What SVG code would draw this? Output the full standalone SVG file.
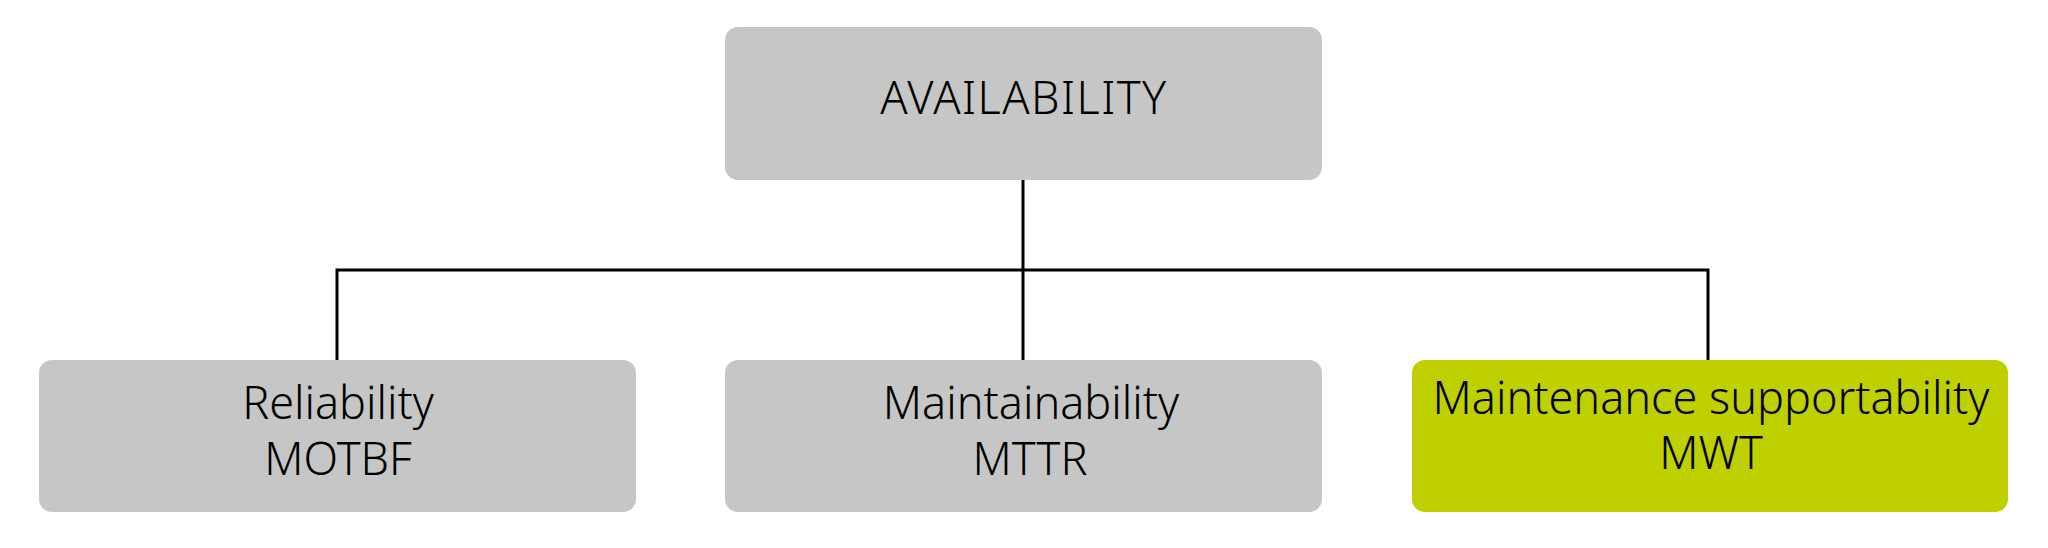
<svg xmlns="http://www.w3.org/2000/svg" width="2048" height="548" viewBox="0 0 2048 548">
<style>
.box{fill:#c6c6c6}
.hl{fill:#bed000}
.t{font-family:"Noto Sans","Open Sans","Liberation Sans",sans-serif;font-weight:300;font-size:45px;fill:#000;text-anchor:middle}
.c{stroke:#000;stroke-width:3;fill:none}
</style>
<rect width="2048" height="548" fill="#fff"/>
<g id="connectors">
<path class="c" d="M1023 180 V360"/>
<path class="c" d="M337 360 V270 H1708 V360"/>
</g>
<g id="availability">
<rect class="box" x="725" y="27" width="597" height="153" rx="13"/>
<text class="t" x="1024" y="114" letter-spacing="1.5">AVAILABILITY</text>
</g>
<g id="reliability">
<rect class="box" x="39" y="360" width="597" height="152" rx="13"/>
<text class="t" x="338" y="419">Reliability</text>
<text class="t" x="338" y="475">MOTBF</text>
</g>
<g id="maintainability">
<rect class="box" x="725" y="360" width="597" height="152" rx="13"/>
<text class="t" x="1031" y="419">Maintainability</text>
<text class="t" x="1030" y="475">MTTR</text>
</g>
<g id="supportability">
<rect class="hl" x="1412" y="360" width="596" height="152" rx="13"/>
<text class="t" x="1711" y="414">Maintenance supportability</text>
<text class="t" x="1711" y="469">MWT</text>
</g>
</svg>
